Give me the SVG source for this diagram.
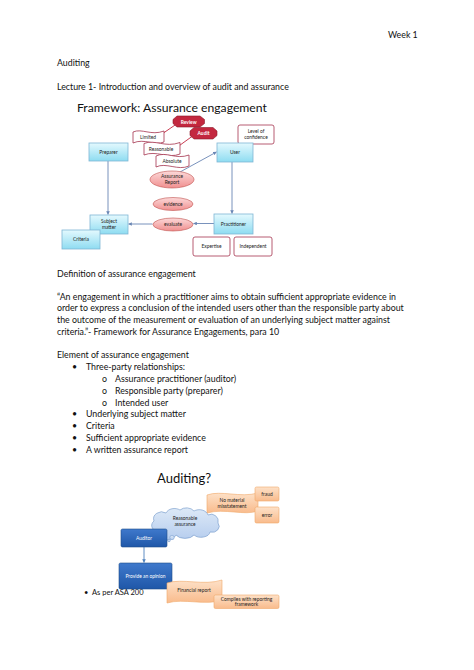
<svg xmlns="http://www.w3.org/2000/svg" width="474" height="670" viewBox="0 0 474 670">
<style>
.t{font-family:Lato,"Open Sans","Liberation Sans",sans-serif;fill:#111;font-size:8.8px}
.h{font-family:Lato,"Open Sans","Liberation Sans",sans-serif;fill:#111;font-size:13px}
.s{font-family:Lato,"Open Sans","Liberation Sans",sans-serif;fill:#222;font-size:4.9px;text-anchor:middle}
.w{font-family:Lato,"Open Sans","Liberation Sans",sans-serif;fill:#fff;font-size:4.9px;text-anchor:middle;font-weight:bold}
.cy{fill:url(#cyan);stroke:#7fb6d4;stroke-width:0.8}
.wb{fill:#fff;stroke:#a4344e;stroke-width:0.8}
.pk{fill:url(#pink);stroke:#c0504d;stroke-width:0.6}
.oc{fill:#c3283f;stroke:#8c1a2a;stroke-width:0.6}
.or{fill:url(#orange);stroke:#f0a868;stroke-width:0.6}
.db{fill:url(#blue);stroke:#1f4e8c;stroke-width:0.6}
.ar{stroke:#6a86b4;stroke-width:0.9;fill:none;marker-end:url(#ah)}
.rl{stroke:#c3283f;stroke-width:0.9;fill:none}
</style>
<defs>
<linearGradient id="cyan" x1="0" y1="0" x2="0" y2="1"><stop offset="0" stop-color="#e4f9fe"/><stop offset="1" stop-color="#8edcf1"/></linearGradient>
<linearGradient id="pink" x1="0" y1="0" x2="0" y2="1"><stop offset="0" stop-color="#fcd9d9"/><stop offset="1" stop-color="#f08f8f"/></linearGradient>
<linearGradient id="orange" x1="0" y1="0" x2="0" y2="1"><stop offset="0" stop-color="#fde1c8"/><stop offset="1" stop-color="#f9bb8c"/></linearGradient>
<linearGradient id="blue" x1="0" y1="0" x2="0" y2="1"><stop offset="0" stop-color="#3f79cc"/><stop offset="1" stop-color="#1f57a8"/></linearGradient>
<linearGradient id="cloud" x1="0" y1="0" x2="0" y2="1"><stop offset="0" stop-color="#dde9f7"/><stop offset="1" stop-color="#b6cdee"/></linearGradient>
<marker id="ah" viewBox="0 0 6 6" refX="5.5" refY="3" markerWidth="4" markerHeight="4" orient="auto"><path d="M0,0 L6,3 L0,6 Z" fill="#6a86b4"/></marker>
<marker id="ah2" viewBox="0 0 6 6" refX="5.5" refY="3" markerWidth="4" markerHeight="4" orient="auto"><path d="M0,0 L6,3 L0,6 Z" fill="#4f81bd"/></marker>
</defs>
<rect width="474" height="670" fill="#fff"/>

<g id="page-text">
<text class="t" x="388" y="38">Week 1</text>
<text class="t" x="57" y="66">Auditing</text>
<text class="t" x="57" y="89.5">Lecture 1- Introduction and overview of audit and assurance</text>
<text class="h" x="77" y="111.5" style="font-size:12.2px">Framework: Assurance engagement</text>
<text class="t" x="57" y="277">Definition of assurance engagement</text>
<text class="t" x="57" y="299.5">“An engagement in which a practitioner aims to obtain sufficient appropriate evidence in</text>
<text class="t" x="57" y="311.2">order to express a conclusion of the intended users other than the responsible party about</text>
<text class="t" x="57" y="322.9">the outcome of the measurement or evaluation of an underlying subject matter against</text>
<text class="t" x="57" y="334.6">criteria.”- Framework for Assurance Engagements, para 10</text>
<text class="t" x="57" y="357.7">Element of assurance engagement</text>
<text class="t" x="72" y="370">•</text><text class="t" x="86" y="370">Three-party relationships:</text>
<text class="t" x="102" y="381.5">o</text><text class="t" x="115" y="381.5">Assurance practitioner (auditor)</text>
<text class="t" x="102" y="393.5">o</text><text class="t" x="115" y="393.5">Responsible party (preparer)</text>
<text class="t" x="102" y="405.5">o</text><text class="t" x="115" y="405.5">Intended user</text>
<text class="t" x="72" y="417">•</text><text class="t" x="86" y="417">Underlying subject matter</text>
<text class="t" x="72" y="429">•</text><text class="t" x="86" y="429">Criteria</text>
<text class="t" x="72" y="440.7">•</text><text class="t" x="86" y="440.7">Sufficient appropriate evidence</text>
<text class="t" x="72" y="452.7">•</text><text class="t" x="86" y="452.7">A written assurance report</text>
<text class="h" x="157" y="482.5">Auditing?</text>
<text class="t" x="84" y="595" style="font-size:7.5px">•</text><text class="t" x="92" y="595" style="font-size:7.5px">As per ASA 200</text>
</g>

<g id="connectors">
<line class="rl" x1="162" y1="134" x2="178" y2="123"/>
<line class="rl" x1="176" y1="148" x2="194" y2="135"/>
<line class="ar" x1="108" y1="161" x2="108" y2="214.5"/>
<line class="ar" x1="232" y1="162" x2="232" y2="213.5"/>
<line class="ar" x1="214" y1="223.5" x2="193.5" y2="223.5"/>
<line class="ar" x1="152.5" y1="224" x2="128.5" y2="224"/>
<line class="ar" x1="180" y1="172" x2="216.5" y2="152"/>
<line x1="144" y1="547" x2="144" y2="562.5" stroke="#4f81bd" stroke-width="0.9" marker-end="url(#ah2)"/>
</g>

<g id="level-of-confidence"><rect class="wb" x="238" y="125" width="36" height="19" rx="2"/><text class="s" x="256" y="133">Level of</text><text class="s" x="256" y="139">confidence</text></g>
<g id="preparer"><rect class="cy" x="89" y="143" width="39" height="18"/><text class="s" x="108.5" y="153.5">Preparer</text></g>
<g id="user"><rect class="cy" x="217" y="143" width="36" height="19"/><text class="s" x="235" y="154">User</text></g>
<g id="limited"><path class="wb" d="M133,132 C142,128 151,136 164,131 L164,142 C155,146 144,138 133,143 Z"/><text class="s" x="148" y="139">Limited</text></g>
<g id="reasonable"><path class="wb" d="M144,143.5 C155,139 165,148 180,142.5 L180,154 C168,159 156,150 144,155 Z"/><text class="s" x="161" y="150.8">Reasonable</text></g>
<g id="absolute"><path class="wb" d="M156,156 C166,151 176,160 189,155 L189,166 C178,171 166,162 156,167 Z"/><text class="s" x="172" y="163">Absolute</text></g>
<g id="review"><polygon class="oc" points="177,116 200,116 204.5,119.5 204.5,123.5 200,127 177,127 173,123.5 173,119.5"/><text class="w" x="188.7" y="123.5">Review</text></g>
<g id="audit"><polygon class="oc" points="194,127.5 213,127.5 217,131 217,135.5 213,139 194,139 190,135.5 190,131"/><text class="w" x="203.5" y="135">Audit</text></g>
<g id="assurance-report"><ellipse class="pk" cx="172" cy="179.5" rx="22" ry="8.5"/><text class="s" x="172" y="177.8">Assurance</text><text class="s" x="172" y="183.8">Report</text></g>
<g id="evidence"><ellipse class="pk" cx="173" cy="204" rx="20" ry="6.5"/><text class="s" x="173" y="205.8">evidence</text></g>
<g id="evaluate"><ellipse class="pk" cx="173" cy="224.5" rx="20" ry="6.5"/><text class="s" x="173" y="226.3">evaluate</text></g>
<g id="subject-matter"><rect class="cy" x="90" y="215" width="38" height="19"/><text class="s" x="109" y="222.8">Subject</text><text class="s" x="109" y="228.8">matter</text></g>
<g id="criteria"><rect class="cy" x="62" y="230" width="38" height="19"/><text class="s" x="81" y="241">Criteria</text></g>
<g id="practitioner"><rect class="cy" x="214" y="214" width="39" height="20"/><text class="s" x="233.5" y="225.5">Practitioner</text></g>
<g id="expertise"><rect class="wb" x="193" y="237" width="37" height="19" rx="2"/><text class="s" x="211.5" y="248">Expertise</text></g>
<g id="independent"><rect class="wb" x="234" y="237" width="38" height="19" rx="2"/><text class="s" x="253" y="248">Independent</text></g>

<g id="no-material-misstatement"><path class="or" d="M207,495 C221,490 240,498 258,493 L258,511 C244,516 225,508 207,513 Z"/><text class="s" x="232" y="502">No material</text><text class="s" x="232" y="507.5">misstatement</text></g>
<g id="fraud"><rect class="or" x="255" y="487" width="24" height="14" rx="1.5"/><text class="s" x="267" y="495.5">fraud</text></g>
<g id="error"><rect class="or" x="255" y="507" width="24" height="16" rx="1.5"/><text class="s" x="267" y="516.5">error</text></g>
<g id="reasonable-assurance"><path d="M156,531 a7,6 0 0 1 -2,-10 a8,7 0 0 1 12,-8 a9,7 0 0 1 14,-3 a9,7 0 0 1 14,1 a9,7 0 0 1 14,4 a7,7 0 0 1 10,8 a7,6 0 0 1 -8,9 a9,6 0 0 1 -16,3 a10,6 0 0 1 -18,0 a9,6 0 0 1 -20,-4 Z" fill="url(#cloud)" stroke="#6f95c8" stroke-width="0.6"/><circle cx="172" cy="537.5" r="2.2" fill="url(#cloud)" stroke="#6f95c8" stroke-width="0.5"/><circle cx="169" cy="540.5" r="1.3" fill="url(#cloud)" stroke="#6f95c8" stroke-width="0.5"/><text class="s" x="185" y="519.5">Reasonable</text><text class="s" x="185" y="525.5">assurance</text></g>
<g id="auditor"><rect class="db" x="121" y="529" width="46" height="18" rx="1.5"/><text class="w" x="144" y="539.5" style="font-weight:normal">Auditor</text></g>
<g id="provide-an-opinion"><rect class="db" x="119" y="563" width="53" height="26" rx="1.5"/><text class="w" x="145.5" y="577.5" style="font-weight:normal">Provide an opinion</text></g>
<g id="financial-report"><path class="or" d="M167,583 C182,578 204,586 222,580 L222,600 C206,606 184,598 167,603 Z"/><text class="s" x="194" y="592">Financial report</text></g>
<g id="complies"><rect class="or" x="214" y="595" width="65" height="13.5" rx="1.5"/><text class="s" x="246.5" y="600.5">Complies with reporting</text><text class="s" x="246.5" y="606">framework</text></g>
</svg>
